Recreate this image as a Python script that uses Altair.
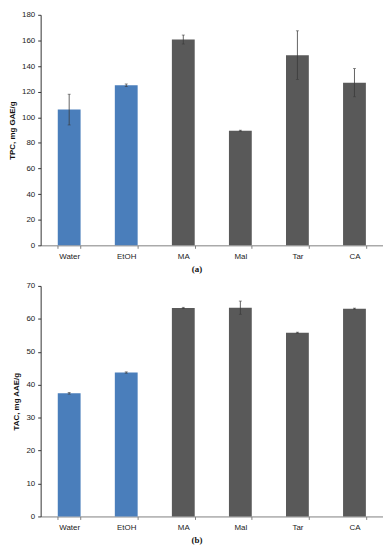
import altair as alt
import pandas as pd

cats = ["Water", "EtOH", "MA", "Mal", "Tar", "CA"]
groups = ["solvent", "solvent", "acid", "acid", "acid", "acid"]
tpc = [106, 125, 160.7, 89.5, 148.5, 127]
tpc_err = [12, 1, 3.5, 0.4, 19, 11]
tac = [37.4, 43.7, 63.3, 63.4, 55.8, 63.1]
tac_err = [0.25, 0.2, 0.2, 2.0, 0.15, 0.15]

FONT = "Liberation Sans"


def panel(vals, errs, ytitle, ymax, ystep, label):
    df = pd.DataFrame({"cat": cats, "grp": groups, "v": vals, "e": errs})
    df["lo"] = df["v"] - df["e"]
    df["hi"] = df["v"] + df["e"]
    xaxis = alt.Axis(labelAngle=0, tickBand="extent", ticks=True, tickSize=3,
                     domainColor="#7f7f7f", tickColor="#7f7f7f",
                     labelFont=FONT, labelFontSize=8, labelColor="#222",
                     labelPadding=4)
    yaxis = alt.Axis(values=list(range(0, ymax + 1, ystep)), grid=False,
                     labelOverlap=False, labelBound=False,
                     tickSize=3, domainColor="#333", tickColor="#333",
                     labelFont=FONT, labelFontSize=8, labelColor="#222",
                     titleFont=FONT, titleFontSize=8, titleFontWeight="bold",
                     titleColor="#111", titlePadding=5, labelPadding=3)
    yscale = alt.Scale(domain=[0, ymax], nice=False)
    xo = alt.X("cat:N", sort=cats, title=None,
               scale=alt.Scale(paddingInner=0.6, paddingOuter=0.3), axis=xaxis)

    def ych(field):
        return alt.Y(field, title=ytitle, scale=yscale, axis=yaxis)

    bars = alt.Chart(df).mark_bar().encode(
        x=xo, y=ych("v:Q"),
        color=alt.Color("grp:N", scale=alt.Scale(domain=["solvent", "acid"],
                                                 range=["#4a7ebb", "#595959"]),
                        legend=None))
    rule = alt.Chart(df).mark_rule(color="#3a3a3a", strokeWidth=0.8).encode(
        x=xo, y=ych("lo:Q"), y2="hi:Q")
    cap_hi = alt.Chart(df).mark_tick(color="#3a3a3a", thickness=0.8, size=3,
                                     orient="horizontal").encode(
        x=xo, y=ych("hi:Q"))
    cap_lo = alt.Chart(df).mark_tick(color="#3a3a3a", thickness=0.8, size=3,
                                     orient="horizontal").encode(
        x=xo, y=ych("lo:Q"))
    return alt.layer(bars, rule, cap_hi, cap_lo).properties(
        width=346, height=233,
        title=alt.TitleParams(label, orient="bottom", anchor="middle",
                              font="Liberation Serif", fontSize=9,
                              fontWeight="bold", color="#111", dx=-15, offset=5))


top = panel(tpc, tpc_err, "TPC, mg GAE/g", 180, 20, "(a)")
bot = panel(tac, tac_err, "TAC, mg AAE/g", 70, 10, "(b)")

chart = (alt.vconcat(top, bot, spacing=8)
         .properties(padding=0)
         .configure(background="white")
         .configure_view(stroke=None)
         .configure_axis(labelOverlap=False))

chart.save("out.html", embed_options={"renderer": "svg", "actions": False})
